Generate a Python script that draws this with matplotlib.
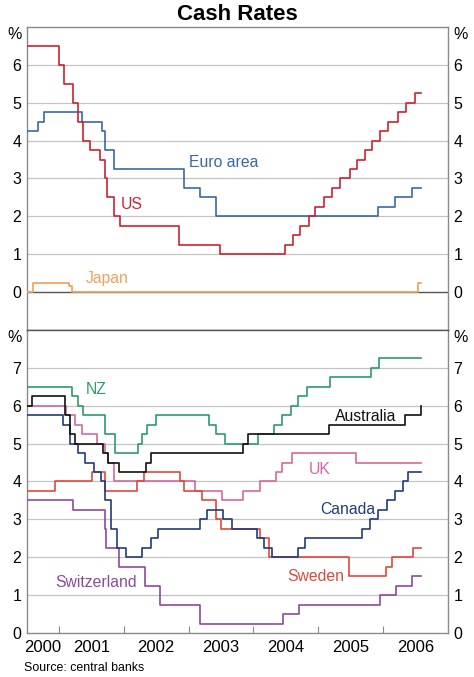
import matplotlib
matplotlib.use('Agg')
import matplotlib.pyplot as plt
import numpy as np
import pandas as pd

plt.rcParams['font.family'] = ['Liberation Sans', 'DejaVu Sans']

START = '2000-07-01'
END = '2006-08-03'

# Policy rate step series: (change dates, values); first value holds from START
us_dates = [START, '2001-01-03', '2001-01-31', '2001-03-20', '2001-04-18', '2001-05-15',
            '2001-06-27', '2001-08-21', '2001-09-17', '2001-10-02', '2001-11-06', '2001-12-11',
            '2002-11-06', '2003-06-25', '2004-06-30', '2004-08-10', '2004-09-21', '2004-11-10',
            '2004-12-14', '2005-02-02', '2005-03-22', '2005-05-03', '2005-06-30', '2005-08-09',
            '2005-09-20', '2005-11-01', '2005-12-13', '2006-01-31', '2006-03-28', '2006-05-10',
            '2006-06-29']
us_rates = [6.5, 6.0, 5.5, 5.0, 4.5, 4.0, 3.75, 3.5, 3.0, 2.5, 2.0, 1.75, 1.25, 1.0, 1.25,
            1.5, 1.75, 2.0, 2.25, 2.5, 2.75, 3.0, 3.25, 3.5, 3.75, 4.0, 4.25, 4.5, 4.75, 5.0, 5.25]

euro_dates = [START, '2000-09-06', '2000-10-11', '2001-05-11', '2001-08-31', '2001-09-18',
              '2001-11-09', '2002-12-06', '2003-03-07', '2003-06-06', '2005-12-06',
              '2006-03-08', '2006-06-15']
euro_rates = [4.25, 4.5, 4.75, 4.5, 4.25, 3.75, 3.25, 2.75, 2.5, 2.0, 2.25, 2.5, 2.75]

japan_dates = [START, '2000-08-11', '2001-03-01', '2001-03-19', '2006-07-14']
japan_rates = [0.0, 0.25, 0.15, 0.0, 0.25]

nz_dates = [START, '2001-03-14', '2001-04-19', '2001-05-16', '2001-09-19', '2001-11-14',
            '2002-03-20', '2002-04-17', '2002-05-15', '2002-07-03', '2003-04-24', '2003-06-05',
            '2003-07-24', '2004-01-29', '2004-04-29', '2004-06-10', '2004-07-29', '2004-09-09',
            '2004-10-28', '2005-03-10', '2005-10-27', '2005-12-08']
nz_rates = [6.5, 6.25, 6.0, 5.75, 5.25, 4.75, 5.0, 5.25, 5.5, 5.75, 5.5, 5.25, 5.0, 5.25,
            5.5, 5.75, 6.0, 6.25, 6.5, 6.75, 7.0, 7.25]

aus_dates = [START, '2000-08-02', '2001-02-07', '2001-03-07', '2001-04-04', '2001-09-05',
             '2001-10-03', '2001-12-05', '2002-05-08', '2002-06-05', '2003-11-05', '2003-12-03',
             '2005-03-02', '2006-05-03', '2006-08-02']
aus_rates = [6.0, 6.25, 5.75, 5.25, 5.0, 4.75, 4.5, 4.25, 4.5, 4.75, 5.0, 5.25, 5.5, 5.75, 6.0]

uk_dates = [START, '2001-02-08', '2001-04-05', '2001-05-10', '2001-08-02', '2001-09-18',
            '2001-10-04', '2001-11-08', '2003-02-06', '2003-07-10', '2003-11-06', '2004-02-05',
            '2004-05-06', '2004-06-10', '2004-08-05', '2005-08-04']
uk_rates = [6.0, 5.75, 5.5, 5.25, 5.0, 4.75, 4.5, 4.0, 3.75, 3.5, 3.75, 4.0, 4.25, 4.5, 4.75, 4.5]

canada_dates = [START, '2001-01-23', '2001-03-06', '2001-04-17', '2001-05-29', '2001-07-17',
                '2001-08-28', '2001-09-17', '2001-10-23', '2001-11-27', '2002-01-15',
                '2002-04-16', '2002-06-04', '2002-07-16', '2003-03-04', '2003-04-15',
                '2003-07-15', '2003-09-03', '2004-01-20', '2004-03-02', '2004-04-13',
                '2004-09-08', '2004-10-19', '2005-09-07', '2005-10-18', '2005-12-06',
                '2006-01-24', '2006-03-07', '2006-04-25', '2006-05-24']
canada_rates = [5.75, 5.5, 5.0, 4.75, 4.5, 4.25, 4.0, 3.5, 2.75, 2.25, 2.0, 2.25, 2.5, 2.75,
                3.0, 3.25, 3.0, 2.75, 2.5, 2.25, 2.0, 2.25, 2.5, 2.75, 3.0, 3.25, 3.5, 3.75,
                4.0, 4.25]

sweden_dates = [START, '2000-12-08', '2001-07-06', '2001-09-17', '2002-03-19', '2002-04-26',
                '2002-11-15', '2002-12-05', '2003-03-17', '2003-06-05', '2003-07-04',
                '2004-02-06', '2004-04-01', '2005-06-21', '2006-01-20', '2006-02-23',
                '2006-06-21']
sweden_rates = [3.75, 4.0, 4.25, 3.75, 4.0, 4.25, 4.0, 3.75, 3.5, 3.0, 2.75, 2.5, 2.0, 1.5,
                1.75, 2.0, 2.25]

swiss_dates = [START, '2001-03-22', '2001-09-17', '2001-09-24', '2001-12-07', '2002-05-02',
               '2002-07-26', '2003-03-06', '2004-06-17', '2004-09-16', '2005-12-15',
               '2006-03-16', '2006-06-15']
swiss_rates = [3.5, 3.25, 2.75, 2.25, 1.75, 1.25, 0.75, 0.25, 0.5, 0.75, 1.0, 1.25, 1.5]

years = [2000, 2001, 2002, 2003, 2004, 2005, 2006]


def to_year(d):
    d = pd.Timestamp(d)
    start = pd.Timestamp(year=d.year, month=1, day=1)
    length = pd.Timestamp(year=d.year + 1, month=1, day=1) - start
    return d.year + (d - start) / length


def step(ax, dates, rates, color):
    x = [to_year(d) for d in dates] + [to_year(END)]
    y = list(rates) + [rates[-1]]
    ax.step(x, y, where='post', color=color, lw=1.2, zorder=3)


fig = plt.figure(figsize=(4.74, 6.77), dpi=100)
ax1 = fig.add_axes([0.057, 0.5126, 0.888, 0.4475])
ax2 = fig.add_axes([0.057, 0.065, 0.888, 0.4476])

grey = '#8a8a8a'
fs = 11.5
lfs = 11.3
for ax in (ax1, ax2):
    ax.set_xlim(2000.51, 2007.0)
    for s in ax.spines.values():
        s.set_color(grey)
        s.set_linewidth(1.0)
    ax.tick_params(axis='y', length=0, labelsize=fs, pad=4,
                   labelleft=True, labelright=True)
    ax.text(-0.03, 0.974, '%', transform=ax.transAxes, ha='center', va='center', fontsize=fs)
    ax.text(1.03, 0.974, '%', transform=ax.transAxes, ha='center', va='center', fontsize=fs)

# top panel
ax1.set_ylim(-1, 7)
ax1.set_yticks(range(0, 7))
for v in range(1, 7):
    ax1.axhline(v, color='#c4c4c4', lw=0.9, zorder=1)
ax1.axhline(0, color='#555555', lw=1.0, zorder=2)
ax1.set_xticks([])
ax1.spines['bottom'].set_color('#555555')

step(ax1, euro_dates, euro_rates, '#3868a8')
step(ax1, us_dates, us_rates, '#cc2230')
step(ax1, japan_dates, japan_rates, '#f0a058')

ax1.text(2003.55, 3.42, 'Euro area', color='#3868a8', fontsize=lfs, ha='center', va='center')
ax1.text(2002.12, 2.32, 'US', color='#cc2230', fontsize=lfs, ha='center', va='center')
ax1.text(2001.75, 0.37, 'Japan', color='#f0a058', fontsize=lfs, ha='center', va='center')

# bottom panel
ax2.set_ylim(0, 8)
ax2.set_yticks(range(0, 8))
for v in range(1, 8):
    ax2.axhline(v, color='#c4c4c4', lw=0.9, zorder=1)
ax2.spines['top'].set_color('#555555')

ax2.set_xticks(years[1:])
ax2.set_xticklabels([])
ax2.tick_params(axis='x', which='major', direction='in', length=5, color=grey)
mid = [2000.755] + [y + 0.5 for y in years[1:]]
ax2.set_xticks(mid, minor=True)
ax2.set_xticklabels([str(y) for y in years], minor=True)
ax2.tick_params(axis='x', which='minor', length=0, labelsize=12, pad=5)

step(ax2, nz_dates, nz_rates, '#2b9c6a')
step(ax2, uk_dates, uk_rates, '#d4689c')
step(ax2, sweden_dates, sweden_rates, '#e0483a')
step(ax2, swiss_dates, swiss_rates, '#8c4a9c')
step(ax2, canada_dates, canada_rates, '#213c7c')
step(ax2, aus_dates, aus_rates, '#111111')

ax2.text(2001.58, 6.43, 'NZ', color='#2b9c6a', fontsize=lfs, ha='center', va='center')
ax2.text(2005.73, 5.72, 'Australia', color='#111111', fontsize=lfs, ha='center', va='center')
ax2.text(2005.02, 4.31, 'UK', color='#d4689c', fontsize=lfs, ha='center', va='center')
ax2.text(2005.45, 3.26, 'Canada', color='#213c7c', fontsize=lfs, ha='center', va='center')
ax2.text(2004.96, 1.48, 'Sweden', color='#e0483a', fontsize=lfs, ha='center', va='center')
ax2.text(2001.58, 1.34, 'Switzerland', color='#8c4a9c', fontsize=lfs, ha='center', va='center')

fig.text(0.5, 0.979, 'Cash Rates', ha='center', va='center', fontsize=16, fontweight='bold')
fig.text(0.05, 0.014, 'Source: central banks', ha='left', va='center', fontsize=8.9)

fig.savefig('out.png', dpi=100)
